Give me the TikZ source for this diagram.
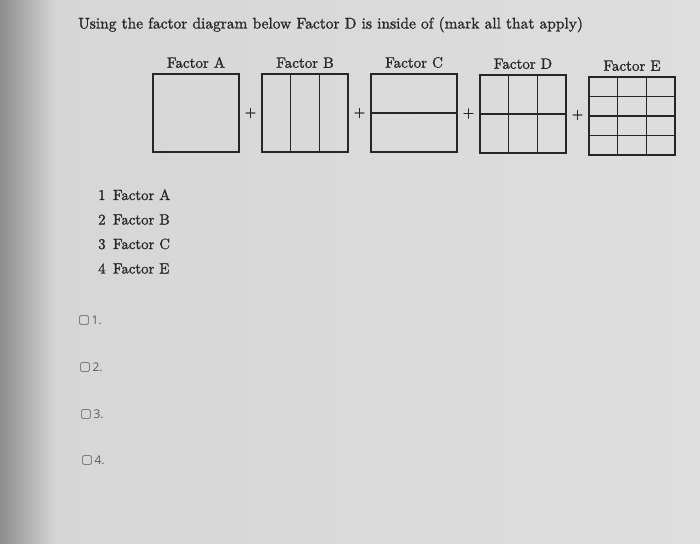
\documentclass[tikz,border=0pt]{standalone}
\usepackage{fontspec}
\setmainfont{lmroman10-regular.otf}[FakeBold=1.2]
\newfontfamily\chkfont{Open Sans}
\usetikzlibrary{calc,positioning}
\pgfdeclarehorizontalshading{screenshade}{100bp}{color(0bp)=(black!45); color(25bp)=(black!45); color(29bp)=(black!16); color(75bp)=(black!13); color(100bp)=(black!13)}
\tikzset{
    factorbox/.style={
    rectangle,draw=black!85,line width=1.1pt,minimum width=86pt,minimum height=78pt,inner sep=0pt
    },
    factorlabel/.style={
    font=\fontsize{15}{18}\selectfont,text=black!85
    },
    plus/.style={
    font=\fontsize{15}{18}\selectfont,text=black!85,inner sep=0pt
    },
    split/.style={
    draw=black!85,line width=1.1pt
    },
    listitem/.style={
    anchor=base west,font=\fontsize{14.8}{18}\selectfont,text=black!85,inner sep=0pt
    },
    checkbox/.style={
    rectangle,rounded corners=1.5pt,draw=black!50,line width=0.8pt,minimum size=9pt,inner sep=0pt
    },
    checklabel/.style={
    font=\chkfont\fontsize{12}{14}\selectfont,text=black!65,inner sep=0pt
    },
}
\begin{document}
\begin{tikzpicture}[x=1pt, y=-1pt]
   \useasboundingbox (0,0) rectangle (700,543);
   \shade[shading=screenshade] (0,0) rectangle (700,543);

   \node[anchor=base west, inner sep=0pt, font=\fontsize{15.45}{18}\selectfont, text=black!85] (title) at (78,28.5)
      {Using the factor diagram below Factor D is inside of (mark all that apply)};

   \node[factorbox] (boxA) at (196,113) {};
   \node[factorbox] (boxB) at (305,113) {};
   \node[factorbox] (boxC) at (414,113) {};
   \node[factorbox] (boxD) at (523,114) {};
   \node[factorbox] (boxE) at (632,116) {};

   \node[factorlabel, above=2pt of boxA] (labA) {Factor A};
   \node[factorlabel, above=2pt of boxB] (labB) {Factor B};
   \node[factorlabel, above=2pt of boxC] (labC) {Factor C};
   \node[factorlabel, above=2pt of boxD] (labD) {Factor D};
   \node[factorlabel, above=2pt of boxE] (labE) {Factor E};

   \node[plus] (plus1) at ($(boxA.east)!0.5!(boxB.west)$) {+};
   \node[plus] (plus2) at ($(boxB.east)!0.5!(boxC.west)$) {+};
   \node[plus] (plus3) at ($(boxC.east)!0.5!(boxD.west)$) {+};
   \node[plus] (plus4) at ($(boxD.east)!0.5!(boxE.west)$) {+};

   \foreach \f in {1/3,2/3} {
     \draw[split] ($(boxB.north west)!\f!(boxB.north east)$) -- ($(boxB.south west)!\f!(boxB.south east)$);
     \draw[split] ($(boxD.north west)!\f!(boxD.north east)$) -- ($(boxD.south west)!\f!(boxD.south east)$);
     \draw[split] ($(boxE.north west)!\f!(boxE.north east)$) -- ($(boxE.south west)!\f!(boxE.south east)$);
   }
   \draw[split] (boxC.west) -- (boxC.east);
   \draw[split] (boxD.west) -- (boxD.east);
   \foreach \f in {1/4,2/4,3/4}
     \draw[split] ($(boxE.north west)!\f!(boxE.south west)$) -- ($(boxE.north east)!\f!(boxE.south east)$);

   \foreach \n/\t [count=\i from 0] in {1/A,2/B,3/C,4/E}
     \node[listitem] (item\n) at (98,200+24.5*\i) {\n\hspace{0.5em}Factor \t};

   \foreach \n/\x/\y in {1/84/320,2/85/367,3/86/414,4/87/460} {
     \node[checkbox] (cb\n) at (\x,\y) {};
     \node[checklabel, right=2.5pt of cb\n] (cl\n) {\n.};
   }
\end{tikzpicture}
\end{document}
